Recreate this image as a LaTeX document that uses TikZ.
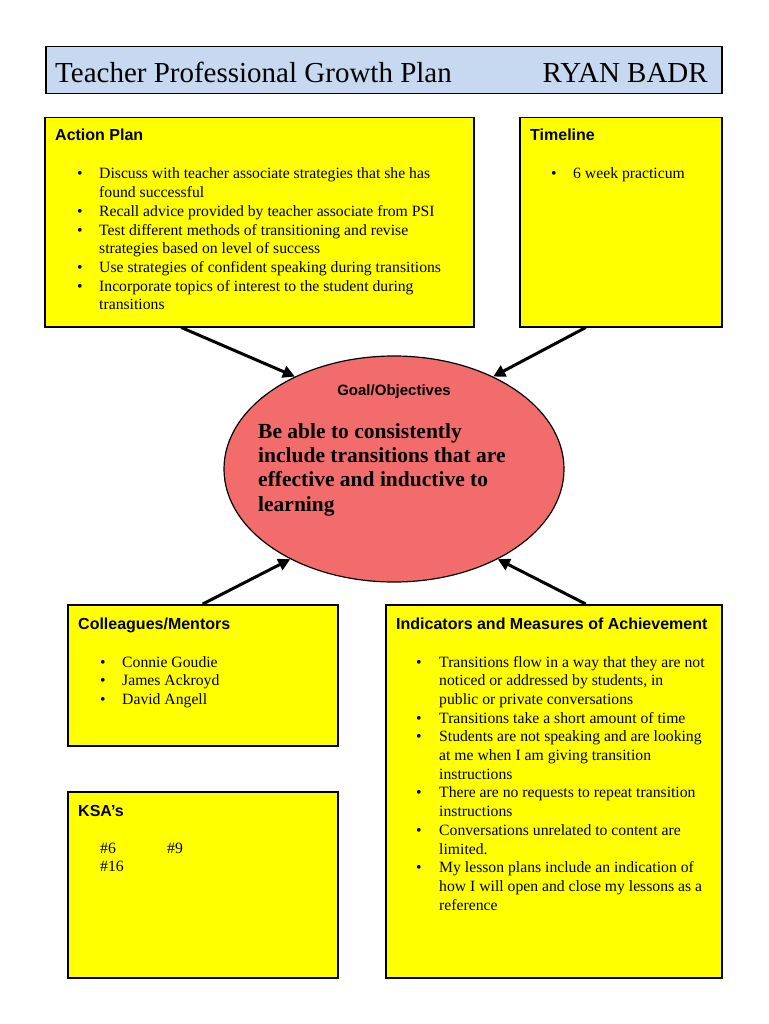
\documentclass[tikz,border=0pt]{standalone}
\usepackage{fontspec}
\setmainfont{Liberation Serif}
\newfontfamily\headfont{Liberation Sans}
\usepackage{xcolor}
\usetikzlibrary{arrows.meta,shapes.geometric}
\definecolor{planyellow}{RGB}{255,255,0}
\definecolor{titleblue}{RGB}{198,217,240}
\definecolor{goalred}{RGB}{242,108,108}
\newcommand{\bul}{\textbullet}
\tikzset{
  planbox/.style={draw, line width=1.5pt, fill=planyellow, anchor=north west, inner sep=0pt},
  boxhead/.style={anchor=base west, inner sep=0pt, font=\headfont\bfseries\fontsize{16}{19}\selectfont},
  boxlist/.style={anchor=base west, inner sep=0pt, font=\fontsize{15.7}{18.7}\selectfont},
  goalarrow/.style={-{Triangle[length=12pt,width=12pt]}, line width=3pt}
}

\begin{document}
\begin{tikzpicture}[x=1pt, y=-1pt]
  \useasboundingbox (0,0) rectangle (768,1024);

  % title bar
  \node[planbox, fill=titleblue, minimum width=676pt, minimum height=47pt] (title) at (45,46) {};
  \node[anchor=base west, inner sep=0pt, font=\fontsize{29}{32}\selectfont] (titletext) at (55,83) {Teacher Professional Growth Plan};
  \node[anchor=base east, inner sep=0pt, font=\fontsize{29}{32}\selectfont] (name) at (708,83) {RYAN BADR};

  % boxes
  \node[planbox, minimum width=429pt, minimum height=209pt] (plan) at (44,117) {};
  \node[planbox, minimum width=202pt, minimum height=209pt] (timeline) at (519,117) {};
  \node[planbox, minimum width=270pt, minimum height=141pt] (mentors) at (67,604) {};
  \node[planbox, minimum width=270pt, minimum height=186pt] (ksa) at (67,791) {};
  \node[planbox, minimum width=336pt, minimum height=373pt] (indicators) at (385,604) {};

  % goal
  \node[ellipse, draw, line width=1.2pt, fill=goalred, minimum width=340pt, minimum height=226pt, inner sep=0pt] (goal) at (394,469) {};
  \node[inner sep=0pt, font=\headfont\bfseries\fontsize{15}{18}\selectfont] (goalhead) at (394,392) {Goal/Objectives};
  \node[anchor=base west, inner sep=0pt, align=left, font=\bfseries\fontsize{21.5}{24.3}\selectfont] (goaltext) at (258,511)
    {Be able to consistently\\include transitions that are\\effective and inductive to\\learning};

  % headings
  \node[boxhead] (planhead) at (55,141) {Action Plan};
  \node[boxhead] (timehead) at (530,141) {Timeline};
  \node[boxhead] (mentorhead) at (78,629) {Colleagues/Mentors};
  \node[boxhead] (ksahead) at (78,816) {KSA’s};
  \node[boxhead] (indhead) at (396,629) {Indicators and Measures of Achievement};

  % lists
  \node[boxlist] (planlist) at (77,179) {\begin{tabular}[t]{@{}p{22pt}@{}l@{}}
    \bul & Discuss with teacher associate strategies that she has\\
         & found successful\\
    \bul & Recall advice provided by teacher associate from PSI\\
    \bul & Test different methods of transitioning and revise\\
         & strategies based on level of success\\
    \bul & Use strategies of confident speaking during transitions\\
    \bul & Incorporate topics of interest to the student during\\
         & transitions
  \end{tabular}};
  \node[boxlist] (timelist) at (551,179) {\begin{tabular}[t]{@{}p{22pt}@{}l@{}}
    \bul & 6 week practicum
  \end{tabular}};
  \node[boxlist] (mentorlist) at (100,667) {\begin{tabular}[t]{@{}p{22pt}@{}l@{}}
    \bul & Connie Goudie\\
    \bul & James Ackroyd\\
    \bul & David Angell
  \end{tabular}};
  \node[boxlist] (ksalist) at (100,853) {\begin{tabular}[t]{@{}p{67pt}@{}l@{}}
    \#6 & \#9\\
    \#16 &
  \end{tabular}};
  \node[boxlist] (indlist) at (416,667) {\begin{tabular}[t]{@{}p{23pt}@{}l@{}}
    \bul & Transitions flow in a way that they are not\\
         & noticed or addressed by students, in\\
         & public or private conversations\\
    \bul & Transitions take a short amount of time\\
    \bul & Students are not speaking and are looking\\
         & at me when I am giving transition\\
         & instructions\\
    \bul & There are no requests to repeat transition\\
         & instructions\\
    \bul & Conversations unrelated to content are\\
         & limited.\\
    \bul & My lesson plans include an indication of\\
         & how I will open and close my lessons as a\\
         & reference
  \end{tabular}};

  % arrows
  \draw[goalarrow] ([xshift=-78pt]plan.south) -- (goal.137);
  \draw[goalarrow] ([xshift=-35pt]timeline.south) -- (goal.43);
  \draw[goalarrow] (mentors.north) -- (goal.221);
  \draw[goalarrow] ([xshift=32pt]indicators.north) -- (goal.319);
\end{tikzpicture}
\end{document}
